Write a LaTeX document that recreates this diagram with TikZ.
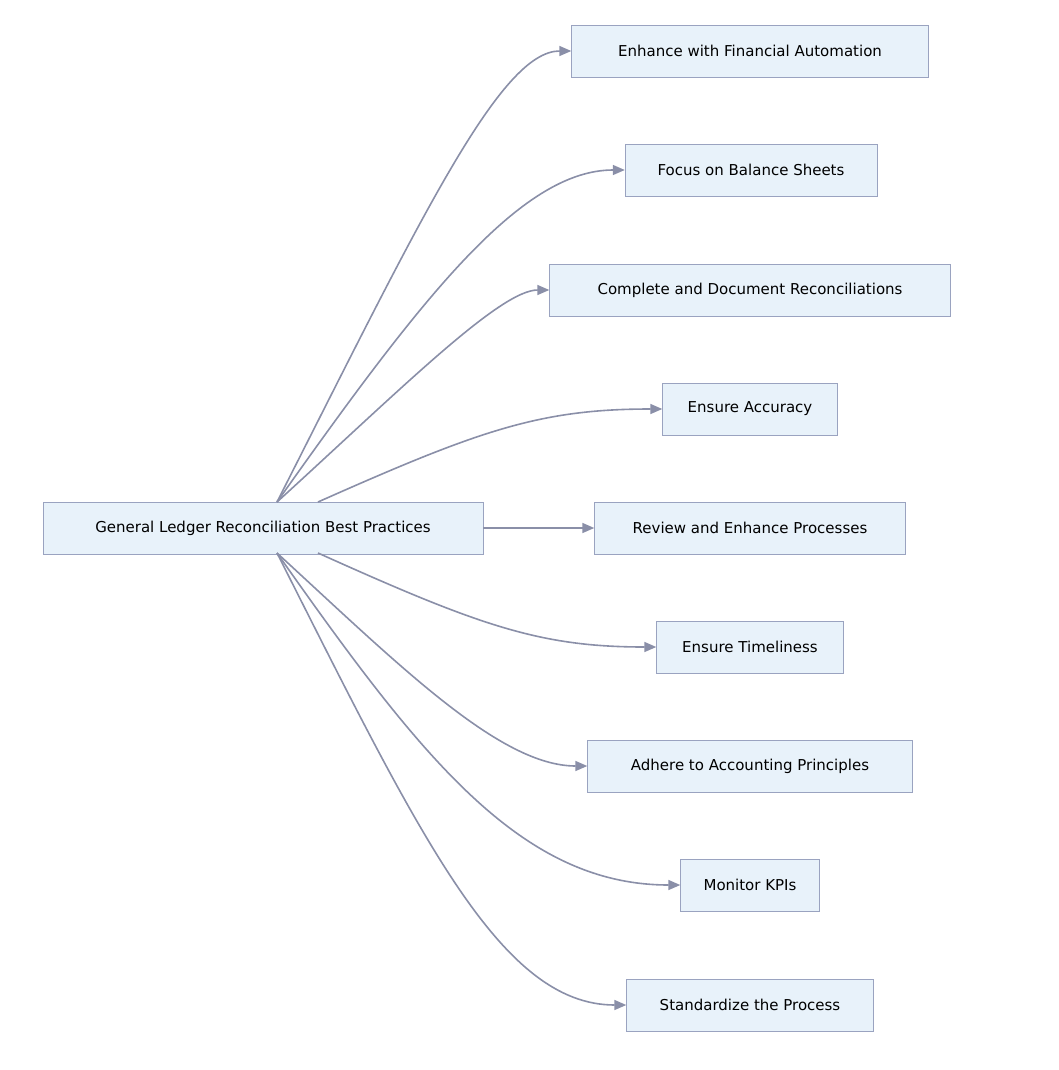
\documentclass[tikz,border=0pt]{standalone}
\usepackage{fontspec}
\setmainfont{DejaVu Sans}
\usetikzlibrary{arrows.meta}
\definecolor{boxfill}{HTML}{E8F2FA}
\definecolor{boxline}{HTML}{9AA3C0}
\definecolor{edgecol}{HTML}{8A8FA8}
\tikzset{
  practice/.style={draw=boxline, fill=boxfill, minimum height=52pt, inner sep=0pt,
    font=\fontsize{15}{18}\selectfont},
  link/.style={draw=edgecol, line width=1.6pt, -{Triangle[length=12pt,width=10pt]}}
}
\begin{document}
\begin{tikzpicture}[x=1pt,y=-1pt]
\useasboundingbox (0,0) rectangle (1058,1070);
\node[practice, minimum width=440pt] (main) at (263,528) {General Ledger Reconciliation Best Practices};
\node[practice, minimum width=357pt] (auto) at (750,51) {Enhance with Financial Automation};
\node[practice, minimum width=252pt] (bal) at (751,170) {Focus on Balance Sheets};
\node[practice, minimum width=401pt] (doc) at (750,290) {Complete and Document Reconciliations};
\node[practice, minimum width=175pt] (acc) at (750,409) {Ensure Accuracy};
\node[practice, minimum width=311pt] (rev) at (750,528) {Review and Enhance Processes};
\node[practice, minimum width=187pt] (time) at (750,647) {Ensure Timeliness};
\node[practice, minimum width=325pt] (adh) at (750,766) {Adhere to Accounting Principles};
\node[practice, minimum width=139pt] (kpi) at (750,885) {Monitor KPIs};
\node[practice, minimum width=247pt] (std) at (750,1005) {Standardize the Process};
\coordinate (top) at (277,502);
\coordinate (bot) at (277,553);
\coordinate (topr) at (318,502);
\coordinate (botr) at (318,553);
% upper branches
\draw[link] (top) .. controls (420,220) and (500,51) .. (auto.west);
\draw[link] (top) .. controls (420,300) and (520,170) .. (bal.west);
\draw[link] (top) .. controls (400,390) and (500,290) .. (doc.west);
\draw[link] (topr) .. controls (480,430) and (540,409) .. (acc.west);
\draw[link] (main.east) -- (rev.west);
% lower branches
\draw[link] (botr) .. controls (480,626) and (540,647) .. (time.west);
\draw[link] (bot) .. controls (400,666) and (500,766) .. (adh.west);
\draw[link] (bot) .. controls (420,756) and (520,885) .. (kpi.west);
\draw[link] (bot) .. controls (420,836) and (500,1005) .. (std.west);
\end{tikzpicture}
\end{document}
